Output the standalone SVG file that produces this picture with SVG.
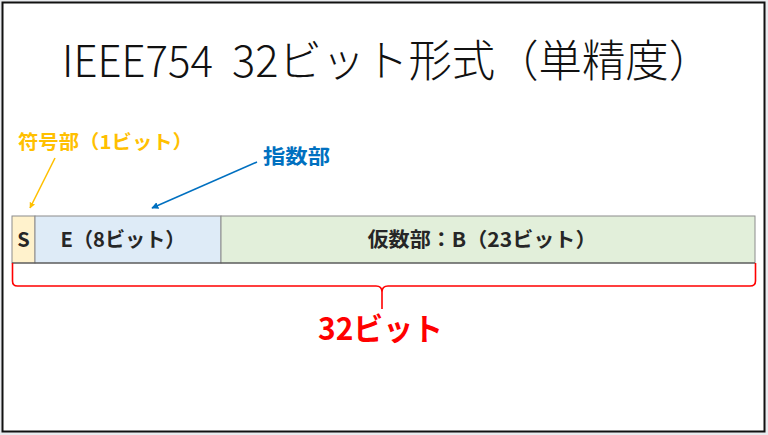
<svg xmlns="http://www.w3.org/2000/svg" width="768" height="435" viewBox="0 0 768 435">
<defs>
<marker id="ao" viewBox="0 0 10 10" refX="9" refY="5" markerWidth="6" markerHeight="6" orient="auto" markerUnits="userSpaceOnUse"><path d="M0,0 L10,5 L0,10 z" fill="#FFC000"/></marker>
<marker id="ab" viewBox="0 0 10 10" refX="9" refY="5" markerWidth="7" markerHeight="7" orient="auto" markerUnits="userSpaceOnUse"><path d="M0,0 L10,5 L0,10 z" fill="#0070C0"/></marker>
</defs>
<style>
.t{font-family:"Noto Sans CJK JP","Noto Sans",sans-serif}
.cell{stroke:#8c8c8c;stroke-width:1}
.bt{font-family:"Noto Sans CJK JP","Noto Sans",sans-serif;font-weight:bold;font-size:20px;fill:#262626}
.ti{font-family:"Noto Sans CJK JP","Noto Sans",sans-serif;font-size:44px;font-weight:300;fill:#111}
</style>
<rect x="0" y="0" width="768" height="435" fill="#e9ebee"/>
<rect x="2.5" y="2.5" width="762" height="429" fill="#ffffff" stroke="#111" stroke-width="2"/>
<g id="title"><text class="ti" y="77"><tspan x="62" textLength="151" lengthAdjust="spacingAndGlyphs">IEEE754</tspan><tspan x="232" textLength="480" lengthAdjust="spacingAndGlyphs">32ビット形式（単精度）</tspan></text></g>
<g id="sign"><rect class="cell" x="12" y="216" width="23" height="47" fill="#FFF2CC"/><text class="bt" x="23.5" y="247" text-anchor="middle" font-size="21">S</text></g>
<g id="exponent"><rect class="cell" x="35" y="216" width="186" height="47" fill="#DEEBF7"/><text class="bt" x="123" y="247" text-anchor="middle" textLength="125" lengthAdjust="spacingAndGlyphs">E（8ビット）</text></g>
<g id="mantissa"><rect class="cell" x="221" y="216" width="534" height="47" fill="#E2EFDA"/><text class="bt" x="482" y="247" text-anchor="middle" textLength="229" lengthAdjust="spacingAndGlyphs">仮数部：B（23ビット）</text></g>
<line x1="12" y1="263" x2="755" y2="263" stroke="#444" stroke-width="1.2"/>
<g id="sign-label"><text class="t" x="18" y="149" font-size="19" font-weight="bold" fill="#FFC000" textLength="175" lengthAdjust="spacingAndGlyphs">符号部（1ビット）</text></g>
<g id="exp-label"><text class="t" x="263" y="164" font-size="20" font-weight="bold" fill="#0070C0" textLength="67" lengthAdjust="spacingAndGlyphs">指数部</text></g>
<g id="total-label"><text class="t" x="318" y="340" font-size="31" font-weight="bold" fill="#FF0000" textLength="125" lengthAdjust="spacingAndGlyphs">32ビット</text></g>
<g id="connectors">
<line x1="55" y1="158" x2="30" y2="208" stroke="#FFC000" stroke-width="1.5" marker-end="url(#ao)"/>
<line x1="257" y1="162" x2="152" y2="208" stroke="#0070C0" stroke-width="1.5" marker-end="url(#ab)"/>
<path d="M12.5,263 L12.5,281 Q12.5,286 17.5,286 L376,286 Q382,286 382,292 L382,309 M382,309 L382,292 Q382,286 388,286 L750,286 Q755.5,286 755.5,281 L755.5,263" fill="none" stroke="#FF0000" stroke-width="1.6"/>
</g>
</svg>
